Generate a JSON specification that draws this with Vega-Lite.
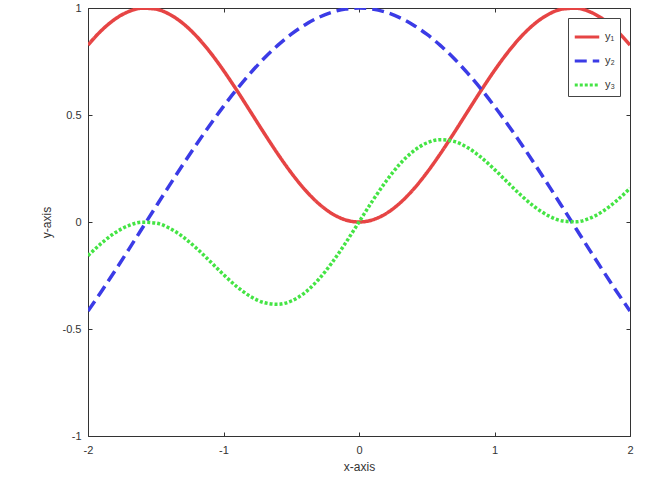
{
  "$schema": "https://vega.github.io/schema/vega-lite/v6.json",
  "autosize": "none",
  "padding": {"left": 88, "top": 8, "right": 39, "bottom": 51},
  "width": 542,
  "height": 428,
  "config": {
    "view": {"stroke": null},
    "axis": {
      "grid": false,
      "domainColor": "#333",
      "domainWidth": 1,
      "tickColor": "#333",
      "tickSize": -4,
      "labelFont": "Liberation Sans",
      "labelFontSize": 11,
      "labelColor": "#333",
      "titleFont": "Liberation Sans",
      "titleFontSize": 12,
      "titleFontWeight": "normal",
      "titleColor": "#333"
    },
    "legend": {
      "labelFont": "Liberation Sans",
      "labelFontSize": 11,
      "labelColor": "#333"
    }
  },
  "data": {
    "values": [
      {"x": -2.0, "y1": 0.82682, "y2": -0.41615, "y3": -0.15747},
      {"x": -1.9, "y1": 0.89548, "y2": -0.32329, "y3": -0.09891},
      {"x": -1.8, "y1": 0.94838, "y2": -0.22720, "y3": -0.05027},
      {"x": -1.7, "y1": 0.98339, "y2": -0.12884, "y3": -0.01646},
      {"x": -1.6, "y1": 0.99915, "y2": -0.02920, "y3": -0.00085},
      {"x": -1.5, "y1": 0.99499, "y2": 0.07074, "y3": -0.00499},
      {"x": -1.4, "y1": 0.97111, "y2": 0.16997, "y3": -0.02847},
      {"x": -1.3, "y1": 0.92845, "y2": 0.26750, "y3": -0.06895},
      {"x": -1.2, "y1": 0.86870, "y2": 0.36236, "y3": -0.12239},
      {"x": -1.1, "y1": 0.79426, "y2": 0.45360, "y3": -0.18337},
      {"x": -1.0, "y1": 0.70807, "y2": 0.54030, "y3": -0.24565},
      {"x": -0.9, "y1": 0.61360, "y2": 0.62161, "y3": -0.30268},
      {"x": -0.8, "y1": 0.51460, "y2": 0.69671, "y3": -0.34821},
      {"x": -0.7, "y1": 0.41502, "y2": 0.76484, "y3": -0.37686},
      {"x": -0.6, "y1": 0.31882, "y2": 0.82534, "y3": -0.38462},
      {"x": -0.5, "y1": 0.22985, "y2": 0.87758, "y3": -0.36923},
      {"x": -0.4, "y1": 0.15165, "y2": 0.92106, "y3": -0.33036},
      {"x": -0.3, "y1": 0.08733, "y2": 0.95534, "y3": -0.26971},
      {"x": -0.2, "y1": 0.03947, "y2": 0.98007, "y3": -0.19083},
      {"x": -0.1, "y1": 0.00997, "y2": 0.99500, "y3": -0.09883},
      {"x": 0.0, "y1": 0.0, "y2": 1.0, "y3": 0.0},
      {"x": 0.1, "y1": 0.00997, "y2": 0.99500, "y3": 0.09883},
      {"x": 0.2, "y1": 0.03947, "y2": 0.98007, "y3": 0.19083},
      {"x": 0.3, "y1": 0.08733, "y2": 0.95534, "y3": 0.26971},
      {"x": 0.4, "y1": 0.15165, "y2": 0.92106, "y3": 0.33036},
      {"x": 0.5, "y1": 0.22985, "y2": 0.87758, "y3": 0.36923},
      {"x": 0.6, "y1": 0.31882, "y2": 0.82534, "y3": 0.38462},
      {"x": 0.7, "y1": 0.41502, "y2": 0.76484, "y3": 0.37686},
      {"x": 0.8, "y1": 0.51460, "y2": 0.69671, "y3": 0.34821},
      {"x": 0.9, "y1": 0.61360, "y2": 0.62161, "y3": 0.30268},
      {"x": 1.0, "y1": 0.70807, "y2": 0.54030, "y3": 0.24565},
      {"x": 1.1, "y1": 0.79426, "y2": 0.45360, "y3": 0.18337},
      {"x": 1.2, "y1": 0.86870, "y2": 0.36236, "y3": 0.12239},
      {"x": 1.3, "y1": 0.92845, "y2": 0.26750, "y3": 0.06895},
      {"x": 1.4, "y1": 0.97111, "y2": 0.16997, "y3": 0.02847},
      {"x": 1.5, "y1": 0.99499, "y2": 0.07074, "y3": 0.00499},
      {"x": 1.6, "y1": 0.99915, "y2": -0.02920, "y3": 0.00085},
      {"x": 1.7, "y1": 0.98339, "y2": -0.12884, "y3": 0.01646},
      {"x": 1.8, "y1": 0.94838, "y2": -0.22720, "y3": 0.05027},
      {"x": 1.9, "y1": 0.89548, "y2": -0.32329, "y3": 0.09891},
      {"x": 2.0, "y1": 0.82682, "y2": -0.41615, "y3": 0.15747}
    ]
  },
  "transform": [
    {"fold": ["y1", "y2", "y3"], "as": ["series", "value"]}
  ],
  "resolve": {"axis": {"x": "independent", "y": "independent"}},
  "layer": [
    {
      "mark": {"type": "line", "interpolate": "monotone", "strokeWidth": 3.5, "clip": true},
      "encoding": {
        "x": {
          "field": "x", "type": "quantitative",
          "scale": {"domain": [-2, 2], "nice": false},
          "axis": {"title": "x-axis", "values": [-2, -1, 0, 1, 2], "labelExpr": "toString(datum.value)", "labelPadding": 12, "titlePadding": 6, "labelFlush": false}
        },
        "y": {
          "field": "value", "type": "quantitative",
          "scale": {"domain": [-1, 1], "nice": false},
          "axis": {"title": "y-axis", "values": [-1, -0.5, 0, 0.5, 1], "labelExpr": "toString(datum.value)", "labelPadding": 11, "titlePadding": 9, "labelFlush": false}
        },
        "color": {
          "field": "series", "type": "nominal",
          "scale": {"domain": ["y1", "y2", "y3"], "range": ["#e64444", "#3b3be6", "#44e444"]},
          "legend": {
            "title": null,
            "orient": "top-right",
            "offset": 10,
            "strokeColor": "#444",
            "fillColor": "white",
            "padding": 5,
            "symbolType": "stroke",
            "symbolSize": 600,
            "symbolStrokeWidth": 3,
            "rowPadding": 4,
            "labelExpr": "datum.label == 'y1' ? 'y₁' : datum.label == 'y2' ? 'y₂' : 'y₃'"
          }
        },
        "strokeDash": {
          "field": "series", "type": "nominal",
          "scale": {"domain": ["y1", "y2", "y3"], "range": [[1, 0], [12, 6], [3, 2]]},
          "legend": null
        }
      }
    },
    {
      "mark": {"type": "line", "opacity": 0},
      "encoding": {
        "x": {
          "field": "x", "type": "quantitative",
          "axis": {"orient": "top", "title": null, "labels": false, "values": [-2, -1, 0, 1, 2]}
        },
        "y": {
          "field": "value", "type": "quantitative",
          "axis": {"orient": "right", "title": null, "labels": false, "values": [-1, -0.5, 0, 0.5, 1]}
        },
        "detail": {"field": "series"}
      }
    }
  ]
}
